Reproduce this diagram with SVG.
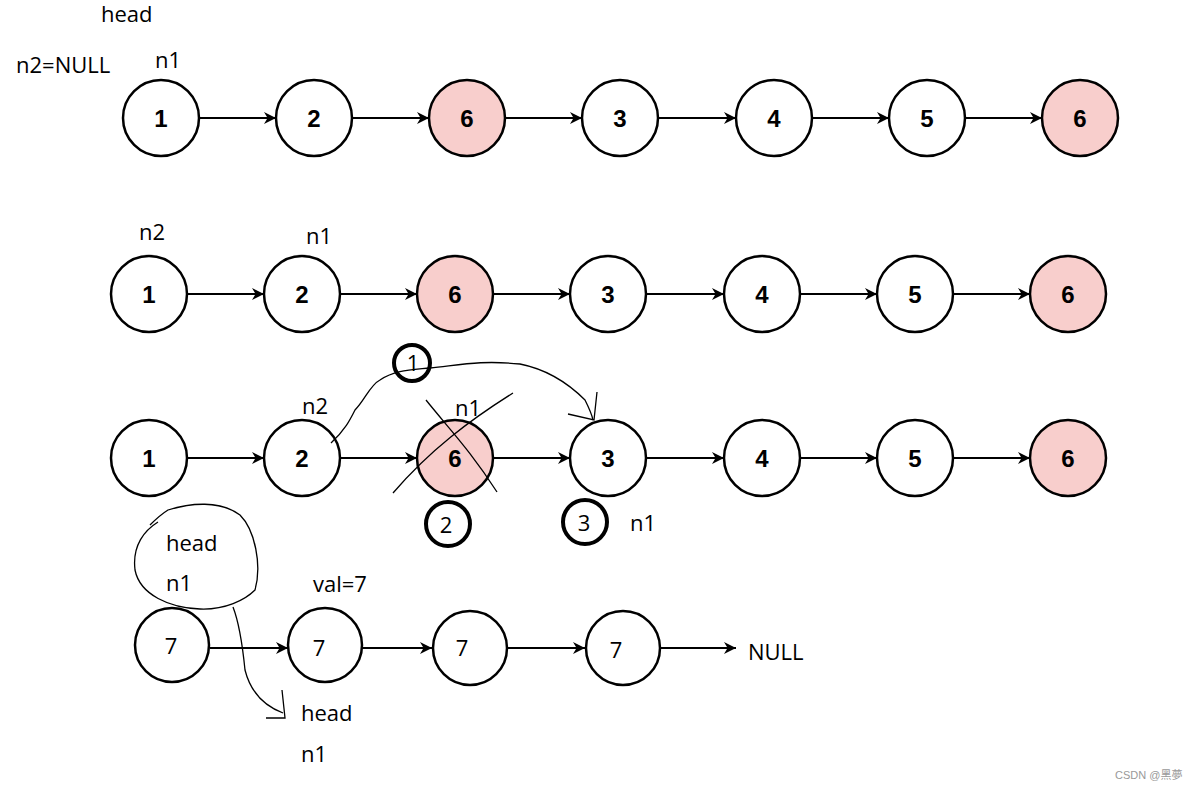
<svg xmlns="http://www.w3.org/2000/svg" width="1197" height="792" viewBox="0 0 1197 792">
<defs>
<style>
.n{fill:#fff;stroke:#000;stroke-width:2.5}
.p{fill:#f8cecc;stroke:#000;stroke-width:2.5}
.b{font-family:"Liberation Sans",Arial,sans-serif;font-weight:bold;font-size:24px;text-anchor:middle}
.t{font-family:"Open Sans","Noto Sans",sans-serif;font-size:22px}
.s{font-family:"Open Sans","Noto Sans",sans-serif;font-size:22px;text-anchor:middle}
.e{stroke:#000;stroke-width:2;fill:none;marker-end:url(#a)}
.h{stroke:#000;stroke-width:1.3;fill:none}
.c{stroke:#000;stroke-width:4;fill:none}
</style>
<marker id="a" viewBox="0 0 10 10" refX="10" refY="5" markerWidth="13" markerHeight="12" orient="auto" markerUnits="userSpaceOnUse"><path d="M0,0 L10,5 L0,10 L3,5 z" fill="#000"/></marker>
</defs>
<rect width="1197" height="792" fill="#fff"/>
<g id="labels">
<text class="t" x="101" y="22">head</text>
<text class="t" x="16" y="73">n2=NULL</text>
<text class="t" x="155" y="68">n1</text>
<text class="t" x="139" y="240">n2</text>
<text class="t" x="306" y="244">n1</text>
<text class="t" x="302" y="414">n2</text>
<text class="t" x="455" y="416">n1</text>
<text class="t" x="630" y="531">n1</text>
<text class="t" x="166" y="551">head</text>
<text class="t" x="166" y="591">n1</text>
<text class="t" x="313" y="592">val=7</text>
<text class="t" x="301" y="721">head</text>
<text class="t" x="301" y="762">n1</text>
<text class="t" x="748" y="660">NULL</text>
<text x="1115" y="779" font-family="'Liberation Sans','Noto Sans CJK SC',sans-serif" font-size="11" fill="#999">CSDN @黑夢</text>
</g>
<g id="connectors">
<path class="e" d="M199,118H276"/><path class="e" d="M352,118H429"/><path class="e" d="M505,118H582"/><path class="e" d="M658,118H736"/><path class="e" d="M812,118H889"/><path class="e" d="M965,118H1042"/>
<path class="e" d="M187,294H264"/><path class="e" d="M340,294H417"/><path class="e" d="M493,294H570"/><path class="e" d="M646,294H724"/><path class="e" d="M800,294H877"/><path class="e" d="M953,294H1030"/>
<path class="e" d="M187,458H264"/><path class="e" d="M340,458H417"/><path class="e" d="M493,458H570"/><path class="e" d="M646,458H724"/><path class="e" d="M800,458H877"/><path class="e" d="M953,458H1030"/>
<path class="e" d="M210,648H288"/><path class="e" d="M362,648H432"/><path class="e" d="M508,648H585"/><path class="e" d="M661,648H736"/>
</g>
<g id="row1">
<g id="r1n1"><circle class="n" cx="161" cy="118" r="38"/><text class="b" x="161" y="127">1</text></g>
<g id="r1n2"><circle class="n" cx="314" cy="118" r="38"/><text class="b" x="314" y="127">2</text></g>
<g id="r1n3"><circle class="p" cx="467" cy="118" r="38"/><text class="b" x="467" y="127">6</text></g>
<g id="r1n4"><circle class="n" cx="620" cy="118" r="38"/><text class="b" x="620" y="127">3</text></g>
<g id="r1n5"><circle class="n" cx="774" cy="118" r="38"/><text class="b" x="774" y="127">4</text></g>
<g id="r1n6"><circle class="n" cx="927" cy="118" r="38"/><text class="b" x="927" y="127">5</text></g>
<g id="r1n7"><circle class="p" cx="1080" cy="118" r="38"/><text class="b" x="1080" y="127">6</text></g>
</g>
<g id="row2">
<g id="r2n1"><circle class="n" cx="149" cy="294" r="38"/><text class="b" x="149" y="303">1</text></g>
<g id="r2n2"><circle class="n" cx="302" cy="294" r="38"/><text class="b" x="302" y="303">2</text></g>
<g id="r2n3"><circle class="p" cx="455" cy="294" r="38"/><text class="b" x="455" y="303">6</text></g>
<g id="r2n4"><circle class="n" cx="608" cy="294" r="38"/><text class="b" x="608" y="303">3</text></g>
<g id="r2n5"><circle class="n" cx="762" cy="294" r="38"/><text class="b" x="762" y="303">4</text></g>
<g id="r2n6"><circle class="n" cx="915" cy="294" r="38"/><text class="b" x="915" y="303">5</text></g>
<g id="r2n7"><circle class="p" cx="1068" cy="294" r="38"/><text class="b" x="1068" y="303">6</text></g>
</g>
<g id="row3">
<g id="r3n1"><circle class="n" cx="149" cy="458" r="38"/><text class="b" x="149" y="467">1</text></g>
<g id="r3n2"><circle class="n" cx="302" cy="458" r="38"/><text class="b" x="302" y="467">2</text></g>
<g id="r3n3"><circle class="p" cx="455" cy="458" r="38"/><text class="b" x="455" y="467">6</text></g>
<g id="r3n4"><circle class="n" cx="608" cy="458" r="38"/><text class="b" x="608" y="467">3</text></g>
<g id="r3n5"><circle class="n" cx="762" cy="458" r="38"/><text class="b" x="762" y="467">4</text></g>
<g id="r3n6"><circle class="n" cx="915" cy="458" r="38"/><text class="b" x="915" y="467">5</text></g>
<g id="r3n7"><circle class="p" cx="1068" cy="458" r="38"/><text class="b" x="1068" y="467">6</text></g>
</g>
<g id="row4">
<g id="r4n1"><circle class="n" cx="172" cy="645" r="37"/><text class="s" x="171" y="654">7</text></g>
<g id="r4n2"><circle class="n" cx="325" cy="645" r="37"/><text class="s" x="319" y="656">7</text></g>
<g id="r4n3"><circle class="n" cx="470" cy="648" r="37"/><text class="s" x="462" y="656">7</text></g>
<g id="r4n4"><circle class="n" cx="623" cy="648" r="37"/><text class="s" x="616" y="658">7</text></g>
</g>
<g id="annotations">
<circle class="c" cx="412" cy="363" r="18"/><text class="s" x="413" y="371">1</text>
<circle class="c" cx="448" cy="524" r="22"/><text class="s" x="446" y="533">2</text>
<circle class="c" cx="585" cy="522" r="22"/><text class="s" x="584" y="531">3</text>
<path class="h" d="M331,443 C345,430 350,420 355,410 C365,400 370,385 380,380 C395,370 410,370 430,368 C460,365 480,360 520,364 C550,370 570,385 585,400 C590,410 592,415 593,420"/>
<path class="h" d="M568,414 L594,420 L597,392"/>
<path class="h" d="M426,400 C450,430 470,450 497,492"/>
<path class="h" d="M513,393 C470,420 430,450 393,493"/>
<path class="h" d="M158,522 C145,530 132,545 135,570 C140,595 170,608 200,609 C225,610 245,600 255,590 C262,565 255,530 240,515 C220,500 190,503 168,510 C160,515 155,520 150,525"/>
<path class="h" d="M233,607 C240,625 243,650 245,670 C250,690 262,705 283,713"/>
<path class="h" d="M282,690 L285,718 L266,718"/>
</g>
</svg>
